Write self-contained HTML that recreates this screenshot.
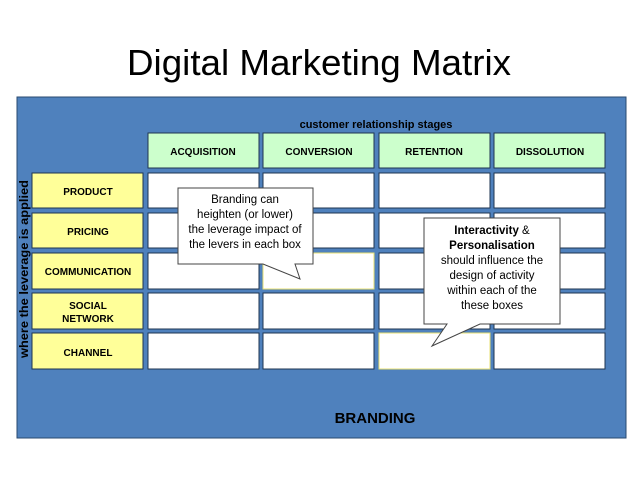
<!DOCTYPE html>
<html><head><meta charset="utf-8"><style>
body{margin:0;background:#fff;width:638px;height:478px;overflow:hidden}
text{font-family:"Liberation Sans",Arial,sans-serif}
</style></head><body>
<svg width="638" height="478" xmlns="http://www.w3.org/2000/svg">
<text x="319" y="75" font-size="36" text-anchor="middle" fill="#000" textLength="384" lengthAdjust="spacingAndGlyphs">Digital Marketing Matrix</text>
<rect x="17" y="97" width="609" height="341" fill="#4F81BD" stroke="#2a4a70" stroke-width="1"/>
<text x="376" y="128" font-size="11" font-weight="bold" text-anchor="middle">customer relationship stages</text>
<g stroke="#1f3550" stroke-width="1">
<rect x="148" y="133" width="111" height="35" fill="#CCFFCC"/>
<rect x="263" y="133" width="111" height="35" fill="#CCFFCC"/>
<rect x="379" y="133" width="111" height="35" fill="#CCFFCC"/>
<rect x="494" y="133" width="111" height="35" fill="#CCFFCC"/>
</g>
<g font-size="10" font-weight="bold" text-anchor="middle">
<text x="203" y="155">ACQUISITION</text>
<text x="319" y="155">CONVERSION</text>
<text x="434" y="155">RETENTION</text>
<text x="550" y="155">DISSOLUTION</text>
</g>
<g stroke="#1f3550" stroke-width="1" fill="#FFFF99">
<rect x="32" y="173" width="111" height="35"/>
<rect x="32" y="213" width="111" height="35"/>
<rect x="32" y="253" width="111" height="36"/>
<rect x="32" y="293" width="111" height="36"/>
<rect x="32" y="333" width="111" height="36"/>
</g>
<g font-size="10" font-weight="bold" text-anchor="middle">
<text x="88" y="195">PRODUCT</text>
<text x="88" y="235">PRICING</text>
<text x="88" y="275">COMMUNICATION</text>
<text x="88" y="309">SOCIAL</text>
<text x="88" y="322">NETWORK</text>
<text x="88" y="356">CHANNEL</text>
</g>
<g stroke="#1f3550" stroke-width="1" fill="#fff">
<rect x="148" y="173" width="111" height="35"/><rect x="263" y="173" width="111" height="35"/><rect x="379" y="173" width="111" height="35"/><rect x="494" y="173" width="111" height="35"/>
<rect x="148" y="213" width="111" height="35"/><rect x="263" y="213" width="111" height="35"/><rect x="379" y="213" width="111" height="35"/><rect x="494" y="213" width="111" height="35"/>
<rect x="148" y="253" width="111" height="36"/><rect x="263" y="253" width="111" height="36" stroke="#e8e070"/><rect x="379" y="253" width="111" height="36"/><rect x="494" y="253" width="111" height="36"/>
<rect x="148" y="293" width="111" height="36"/><rect x="263" y="293" width="111" height="36"/><rect x="379" y="293" width="111" height="36"/><rect x="494" y="293" width="111" height="36"/>
<rect x="148" y="333" width="111" height="36"/><rect x="263" y="333" width="111" height="36"/><rect x="379" y="333" width="111" height="36" stroke="#e8e070"/><rect x="494" y="333" width="111" height="36"/>
</g>
<text transform="translate(28,358) rotate(-90)" font-size="12" font-weight="bold" fill="#000" textLength="178" lengthAdjust="spacingAndGlyphs">where the leverage is applied</text>
<path d="M178,188 H313 V264 H295 L300,279 L263,264 H178 Z" fill="#fff" stroke="#444" stroke-width="1"/>
<g font-size="11.5" text-anchor="middle">
<text x="245" y="203">Branding can</text>
<text x="245" y="218">heighten (or lower)</text>
<text x="245" y="233">the leverage impact of</text>
<text x="245" y="248">the levers in each box</text>
</g>
<path d="M424,218 H560 V324 H480 L432,346 L447,324 H424 Z" fill="#fff" stroke="#444" stroke-width="1"/>
<g font-size="11.5" text-anchor="middle">
<text x="492" y="234"><tspan font-weight="bold">Interactivity</tspan> &amp;</text>
<text x="492" y="249" font-weight="bold">Personalisation</text>
<text x="492" y="264">should influence the</text>
<text x="492" y="279">design of activity</text>
<text x="492" y="294">within each of the</text>
<text x="492" y="309">these boxes</text>
</g>
<text x="375" y="423" font-size="15" font-weight="bold" text-anchor="middle">BRANDING</text>
</svg>
</body></html>
